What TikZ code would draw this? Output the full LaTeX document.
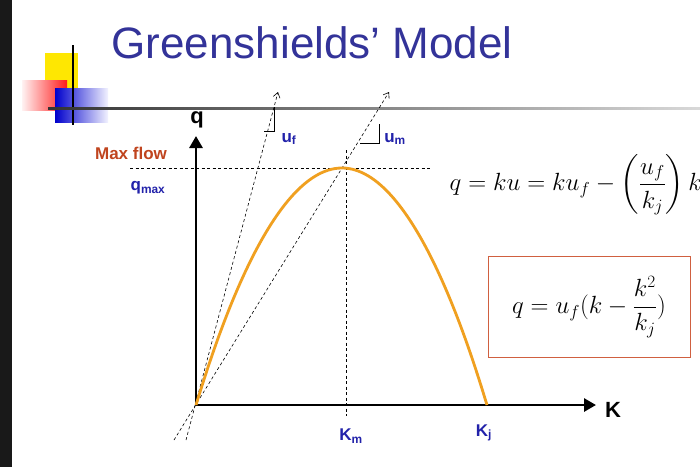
\documentclass[tikz,border=0pt]{standalone}
\usepackage{amsmath}
\usepackage{fontspec}
\setmainfont{Liberation Sans}
\usetikzlibrary{arrows.meta}
\definecolor{ttl}{HTML}{333399}
\definecolor{lbl}{HTML}{2222AA}
\definecolor{mf}{HTML}{C0441E}
\definecolor{crv}{HTML}{F0A020}
\definecolor{bx}{HTML}{D06040}
\tikzset{lab/.style={font=\bfseries\fontsize{17}{17}\selectfont,text=lbl},
 dsh/.style={dash pattern=on 3pt off 2.5pt,line width=0.6pt},
 axis/.style={line width=2.8pt,-{Triangle[length=12pt,width=13pt]}}}
\begin{document}
\begin{tikzpicture}[x=1pt,y=-1pt]
\useasboundingbox (0,0) rectangle (700,467);
\fill[white] (0,0) rectangle (700,467);
\fill[black!90] (0,0) rectangle (12,467);
% logo
\fill[yellow!90!orange] (45,53) rectangle (78,90);
\shade[left color=red!5,right color=red!90] (22,80) rectangle (67,110);
\shade[left color=blue!80!black,right color=blue!5] (55,88) rectangle (108,122);
\draw[line width=1.2pt] (73,45) -- (73,125);
\shade[left color=black!80,right color=black!15] (48,107) rectangle (700,109);
% title
\node[anchor=base west,text=ttl,font=\fontsize{44}{44}\selectfont] (title) at (108,58) {Greenshields’ Model};
% axes
\coordinate (O) at (196,405);
\coordinate (qt) at (196,136);
\coordinate (kt) at (596,405);
\coordinate (pk) at (342,168);
\coordinate (kj) at (487,405);
\draw[axis] (O) -- (qt);
\draw[axis] (O) -- (kt);
\node[font=\bfseries\fontsize{22}{22}\selectfont] (q) at (197,120) {q};
\node[font=\bfseries\fontsize{22}{22}\selectfont] (K) at (613,410) {K};
% dashed guides
\coordinate (h1) at (130,168); \coordinate (h2) at (432,168);
\draw[dsh] (h1) -- (h2);
\coordinate (v1) at (346,150); \coordinate (v2) at (346,416);
\draw[dsh] (v1) -- (v2);
% tangents
\coordinate (uA) at (186,440); \coordinate (uB) at (278,92);
\coordinate (mA) at (174,440); \coordinate (mB) at (389,92);
\draw[dsh,-{Straight Barb[length=5pt,width=7pt]}] (uA) -- (uB);
\draw[dsh,-{Straight Barb[length=5pt,width=7pt]}] (mA) -- (mB);
\draw[line width=0.6pt] (274,107) -- (274,131) -- (264,131);
\draw[line width=0.6pt] (379,124) -- (379,143) -- (360,143);
% curve
\draw[crv,line width=2.8pt] (O) parabola bend (pk) (kj);
% labels
\node[lab] (uf) at (289,139) {u\textsubscript{f}};
\node[lab] (um) at (395,139) {u\textsubscript{m}};
\node[font=\bfseries\fontsize{17}{17}\selectfont,text=mf] (maxf) at (131,153) {Max flow};
\node[lab] (qmax) at (148,188) {q\textsubscript{max}};
\node[lab] (km) at (351,436) {K\textsubscript{m}};
\node[lab] (kjl) at (484,433) {K\textsubscript{j}};
% equations
\node[font=\fontsize{25}{25}\selectfont] (eq1) at (580,185) {$q=ku=ku_f-\left(\dfrac{u_f}{k_j}\right)k^2$};
\node[draw=bx,line width=1pt,minimum width=202pt,minimum height=101pt,font=\fontsize{27}{27}\selectfont] (eq2) at (589,307) {$q=u_f(k-\dfrac{k^2}{k_j})$};
\end{tikzpicture}
\end{document}
